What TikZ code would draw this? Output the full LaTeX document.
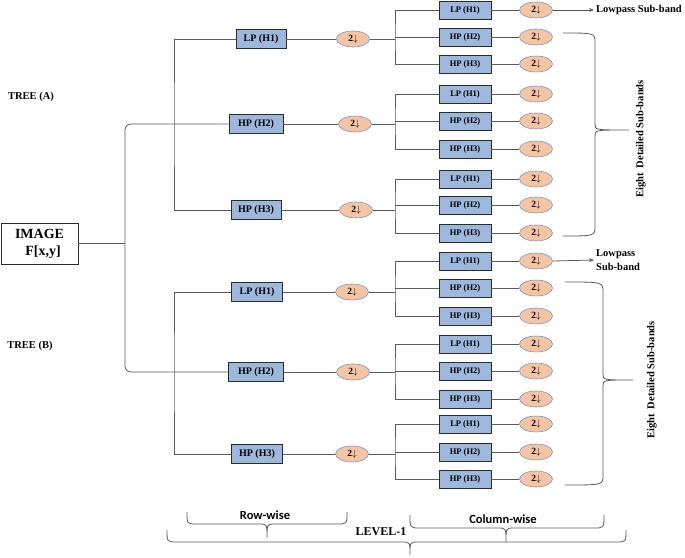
\documentclass[tikz,border=0pt]{standalone}
\usepackage{fontspec}
\setmainfont{Liberation Serif}
\newfontfamily\calib{Carlito}
\usetikzlibrary{shapes.geometric,arrows.meta}
\definecolor{lineC}{HTML}{5A5A5A}
\definecolor{boxD}{HTML}{2B2B2B}
\definecolor{boxF}{HTML}{9DB8DC}
\definecolor{ellF}{HTML}{F5C4A2}
\definecolor{ellD}{HTML}{7A95C2}
% right-facing brace: x0, xmid, y1, y2, xtip, ytip
\newcommand\myvbrace[6]{%
  \draw[ln] (#1,#3) .. controls (#2,#3) .. (#2,#3+10) -- (#2,#6-6)
    .. controls (#2,#6) .. (#5,#6) .. controls (#2,#6) .. (#2,#6+6)
    -- (#2,#4-10) .. controls (#2,#4) .. (#1,#4);}
% downward brace: x1, x2, ytop, ymid, xtip, ytip
\newcommand\myhbrace[6]{%
  \draw[ln] (#1,#3) .. controls (#1,#4) .. (#1+10,#4) -- (#5-8,#4)
    .. controls (#5,#4) .. (#5,#6) .. controls (#5,#4) .. (#5+8,#4)
    -- (#2-10,#4) .. controls (#2,#4) .. (#2,#3);}
\begin{document}
\begin{tikzpicture}[x=1pt,y=-1pt,
  ln/.style={draw=lineC, line width=0.8pt},
  boxA/.style={draw=boxD, fill=boxF, line width=0.8pt, minimum height=19pt,
    inner sep=0pt, font=\fontsize{10}{12}\selectfont\bfseries},
  boxB/.style={draw=boxD, fill=boxF, line width=0.8pt, minimum width=52pt,
    minimum height=18pt, inner sep=0pt, font=\fontsize{8.5}{10}\selectfont\bfseries},
  dec/.style={ellipse, draw=ellD, fill=ellF, line width=0.6pt, minimum width=33pt,
    minimum height=16pt, inner sep=0pt, font=\fontsize{9.5}{10}\selectfont\bfseries},
  lab/.style={font=\fontsize{10.5}{13.5}\selectfont\bfseries, inner sep=1pt},
  sublab/.style={font=\calib\fontsize{12.5}{14}\selectfont\bfseries, inner sep=0pt}]
\useasboundingbox (0,0) rectangle (685,557);

% image
\node[draw=boxD, line width=0.8pt, minimum width=77pt, minimum height=41pt, inner sep=0pt,
  align=center, font=\fontsize{14}{17}\selectfont\bfseries] (IMG) at (39.5,243.5) {IMAGE\\\ \ F[x,y]};
\node[lab] (TA) at (31,97) {TREE (A)};
\node[lab] (TB) at (30,346) {TREE (B)};

% level-2 boxes
\node[boxA, minimum width=50pt] (A1) at (261,39) {LP (H1)};
\node[boxA, minimum width=54pt] (A2) at (256,124) {HP (H2)};
\node[boxA, minimum width=50pt] (A3) at (256,210) {HP (H3)};
\node[boxA, minimum width=51pt] (B1) at (257,292) {LP (H1)};
\node[boxA, minimum width=55pt] (B2) at (256,372) {HP (H2)};
\node[boxA, minimum width=51pt] (B3) at (257,454) {HP (H3)};
\node[dec] (eA1) at (353,39) {2$\downarrow$};
\node[dec] (eA2) at (355,124) {2$\downarrow$};
\node[dec] (eA3) at (356,210) {2$\downarrow$};
\node[dec] (eB1) at (352,292) {2$\downarrow$};
\node[dec] (eB2) at (353,372) {2$\downarrow$};
\node[dec] (eB3) at (352,454) {2$\downarrow$};
\foreach \n in {A1,A2,A3,B1,B2,B3} \draw[ln] (\n.east) -- (e\n.west);

% main trunk
\coordinate (J) at (125,243.5);
\draw[ln] (IMG.east) -- (J);
\draw[ln, rounded corners=6pt] (A2.west) -- (A2.west -| J) -- (B2.west -| J) -- (B2.west);
\coordinate (vA) at (174,124);
\coordinate (vB) at (174,372);
\draw[ln] (A1.west) -| (vA) |- (A3.west);
\draw[ln] (B1.west) -| (vB) |- (B3.west);

% level-3 groups
\foreach \g/\ya/\yb/\yc in {1/10/37/64, 2/94/121/149, 3/179/205/233,
                            4/261/288/316, 5/344/371/399, 6/424/452/479} {
  \node[boxB] (G\g1) at (465,\ya) {LP (H1)};
  \node[boxB] (G\g2) at (465,\yb) {HP (H2)};
  \node[boxB] (G\g3) at (465,\yc) {HP (H3)};
  \node[dec] (E\g1) at (536,\ya) {2$\downarrow$};
  \node[dec] (E\g2) at (536,\yb) {2$\downarrow$};
  \node[dec] (E\g3) at (536,\yc) {2$\downarrow$};
  \draw[ln] (G\g1.east) -- (E\g1.west);
  \draw[ln] (G\g2.east) -- (E\g2.west);
  \draw[ln] (G\g3.east) -- (E\g3.west);
  \coordinate (V\g) at (395,\yb);
  \draw[ln] (G\g1.west) -| (V\g) |- (G\g3.west);
  \draw[ln] (V\g) -- (G\g2.west);
}
\draw[ln] (eA1.east) -- (eA1.east -| V1);
\draw[ln] (eA2.east) -- (eA2.east -| V2);
\draw[ln] (eA3.east) -- (eA3.east -| V3);
\draw[ln] (eB1.east) -- (eB1.east -| V4);
\draw[ln] (eB2.east) -- (eB2.east -| V5);
\draw[ln] (eB3.east) -- (eB3.east -| V6);

% lowpass outputs
\node[lab, anchor=west, inner sep=2pt] (lowA) at (594,10) {Lowpass Sub-band};
\node[lab, anchor=west, align=left, inner sep=2pt] (lowB) at (594,260) {Lowpass\\Sub-band};
\draw[ln, -{Stealth[length=5pt,width=4pt]}] (E11.east) -- (lowA.west);
\draw[ln, -{Stealth[length=5pt,width=4pt]}] (E41.east) -- (lowB.west);

% detail braces
\myvbrace{563}{595}{33}{236}{629}{130}
\node[lab, rotate=90] (dA) at (641,139) {Eight\ \ Detailed Sub-bands};
\myvbrace{565}{603}{282}{485}{633}{380}
\node[lab, rotate=90] (dB) at (652,380) {Eight\ \ Detailed Sub-bands};

% bottom braces
\myhbrace{187}{347}{512}{524}{267}{538}
\node[sublab] (rw) at (265,515) {Row-wise};
\myhbrace{410}{604}{515}{528}{506}{542}
\node[sublab] (cw) at (503,519) {Column-wise};
\myhbrace{167}{626}{530}{542}{410}{555}
\node[font=\fontsize{12}{14}\selectfont\bfseries, inner sep=0pt] (lv) at (381,532) {LEVEL-1};
\end{tikzpicture}
\end{document}
